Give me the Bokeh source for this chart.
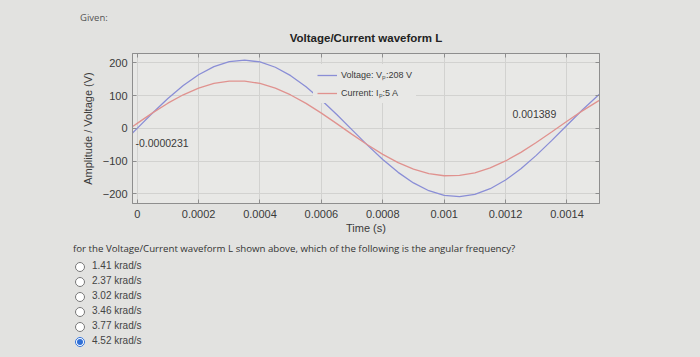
from bokeh.plotting import figure
from bokeh.layouts import column
from bokeh.models import (Label, LinearAxis, FixedTicker, NumeralTickFormatter,
                          Legend, LegendItem, Range1d, Div)
from bokeh.embed import file_html
from bokeh.resources import INLINE

# ---- data ----
time_s = [-0.000016, 0.0, 0.00005, 0.0001, 0.00015, 0.0002, 0.00025, 0.0003, 0.00035,
          0.0004, 0.00045, 0.0005, 0.00055, 0.0006, 0.00065, 0.0007, 0.00075, 0.0008,
          0.00085, 0.0009, 0.00095, 0.001, 0.00105, 0.0011, 0.00115, 0.0012, 0.00125,
          0.0013, 0.00135, 0.0014, 0.00145, 0.0015, 0.00151]
voltage = [-15.0, 0.0, 46.6, 90.9, 130.5, 163.4, 188.1, 203.2, 208.0, 202.2, 186.1, 160.5,
           126.8, 86.6, 42.1, -4.7, -51.1, -95.0, -134.1, -166.3, -190.1, -204.2, -207.9,
           -201.0, -184.0, -157.5, -123.1, -82.4, -37.5, 9.3, 55.7, 99.2, 107.3]
current = [4.6, 15.1, 47.0, 76.6, 102.2, 122.6, 136.9, 144.1, 144.1, 136.7, 122.3, 101.7,
           76.0, 46.4, 14.4, -18.3, -50.1, -79.3, -104.5, -124.4, -137.9, -144.4, -143.6,
           -135.5, -120.5, -99.4, -73.2, -43.3, -11.2, 21.5, 53.1, 82.0, 87.3]
x_ticks = [0, 0.0002, 0.0004, 0.0006, 0.0008, 0.001, 0.0012, 0.0014]
y_ticks = [-200, -100, 0, 100, 200]
legend_labels = ["Voltage: V\u209a:208 V", "Current: I\u209a:5 A"]
annotations = ["-0.0000231", "0.001389"]
title_text = "Voltage/Current waveform L"
given_text = "Given:"
question = ("for the Voltage/Current waveform L shown above, which of the following "
            "is the angular frequency?")
options = ["1.41 krad/s", "2.37 krad/s", "3.02 krad/s", "3.46 krad/s",
           "3.77 krad/s", "4.52 krad/s"]
selected_option = 5

PAGE_BG = "#e2e2e0"
PLOT_BG = "#e8e8e6"
AX = "#8e8e8e"
TXT = "#3a3a3a"

TOP_H = 22
FIG_H = 216
BOT_H = 357 - TOP_H - FIG_H

# ---- top text ----
top_div = Div(width=700, height=TOP_H,
              text=(f'<div style="padding:11px 0 0 80px;line-height:14px;height:11px;'
                    f'font-family:\'Open Sans\';font-size:9.5px;color:#555555;">'
                    f'{given_text}</div>'),
              styles={"background-color": PAGE_BG, "margin": "0", "padding": "0"})

# ---- chart ----
p = figure(width=700, height=FIG_H, output_backend="svg", toolbar_location=None,
           x_range=Range1d(-0.0000153, 0.001506), y_range=Range1d(-229, 228),
           min_border_left=132, min_border_right=101, min_border_top=53 - TOP_H,
           min_border_bottom=TOP_H + FIG_H - 203, background_fill_color=PLOT_BG,
           border_fill_color=PAGE_BG, outline_line_color=AX,
           x_axis_label="Time (s)", y_axis_label="Amplitude / Voltage (V)")

p.title.text = title_text
p.title.align = "center"
p.title.vertical_align = "top"
if "standoff" in p.title.properties():
    p.title.standoff = 16
p.title.text_font = "Liberation Sans"
p.title.text_font_size = "11.5px"
p.title.text_font_style = "bold"
p.title.text_color = "#222222"

p.xaxis.ticker = FixedTicker(ticks=x_ticks)
p.xaxis.formatter = NumeralTickFormatter(format="0.[0000]")
p.yaxis.ticker = FixedTicker(ticks=y_ticks)
for ax in (p.xaxis[0], p.yaxis[0]):
    ax.axis_line_color = AX
    ax.major_tick_line_color = AX
    ax.major_tick_in = 4
    ax.major_tick_out = 0
    ax.minor_tick_line_color = None
    ax.major_label_text_font = "Liberation Sans"
    ax.major_label_text_font_size = "11px"
    ax.major_label_text_color = TXT
    ax.axis_label_text_font = "Liberation Sans"
    ax.axis_label_text_font_size = "11px"
    ax.axis_label_text_font_style = "normal"
    ax.axis_label_text_color = TXT
p.xaxis.major_label_standoff = 6
p.xaxis.axis_label_standoff = 1
p.yaxis.major_label_standoff = 5
p.yaxis.axis_label_standoff = 6

# mirrored tick marks (no labels) on the top and right sides
for loc, tks in (("above", x_ticks), ("right", y_ticks)):
    ax = LinearAxis(ticker=FixedTicker(ticks=tks), major_label_text_color=None,
                    major_label_text_font_size="1px", major_label_standoff=0,
                    axis_line_color=AX, major_tick_line_color=AX,
                    major_tick_in=4, major_tick_out=0, minor_tick_line_color=None)
    p.add_layout(ax, loc)

p.grid.grid_line_color = "#d2d2d0"
p.grid.grid_line_width = 1

r_v = p.line(time_s, voltage, line_color="#8a8ed6", line_width=1.3)
r_i = p.line(time_s, current, line_color="#e0928f", line_width=1.3)

legend = Legend(items=[LegendItem(label=legend_labels[0], renderers=[r_v]),
                       LegendItem(label=legend_labels[1], renderers=[r_i])],
                location=(181, 100), border_line_alpha=0,
                background_fill_color=PLOT_BG, background_fill_alpha=1.0,
                padding=4, margin=0, spacing=5, glyph_width=20, glyph_height=12,
                label_height=12, label_standoff=4, label_text_font="Liberation Sans",
                label_text_font_size="9px", label_text_color=TXT)
p.add_layout(legend, "center")

# cursor read-outs
p.add_layout(Label(x=3, y=61, x_units="screen", y_units="screen", text=annotations[0],
                   text_font="Liberation Sans", text_font_size="10.5px", text_color=TXT,
                   text_baseline="middle", text_align="left"))
p.add_layout(Label(x=380, y=90, x_units="screen", y_units="screen", text=annotations[1],
                   text_font="Liberation Sans", text_font_size="10.5px", text_color=TXT,
                   text_baseline="middle", text_align="left",
                   background_fill_color="#efefed", background_fill_alpha=0.6))

# ---- question and options ----
rows = []
for i, lab in enumerate(options):
    checked = " checked" if i == selected_option else ""
    rows.append(
        f'<div style="height:15px;display:flex;align-items:center;padding-left:75px;">'
        f'<input type="radio" name="q"{checked} style="width:10px;height:10px;margin:0;'
        f'accent-color:#2f6fd6;">'
        f'<span style="margin-left:7px;">{lab}</span></div>')
bottom_html = (
    f'<div style="padding:4px 0 0 73px;height:14px;line-height:14px;'
    f'font-family:\'Open Sans\';font-size:9.7px;color:#333333;white-space:nowrap;">'
    f'{question}</div>'
    f'<div style="margin-top:7px;font-family:\'Liberation Sans\';font-size:10px;'
    f'color:#444444;">' + "".join(rows) + '</div>')
bottom_div = Div(width=700, height=BOT_H, text=bottom_html,
                 styles={"background-color": PAGE_BG, "margin": "0", "padding": "0"})

layout = column(top_div, p, bottom_div, spacing=0)
layout.styles = {"background-color": PAGE_BG}

open("out.html", "w").write(file_html(layout, INLINE))
